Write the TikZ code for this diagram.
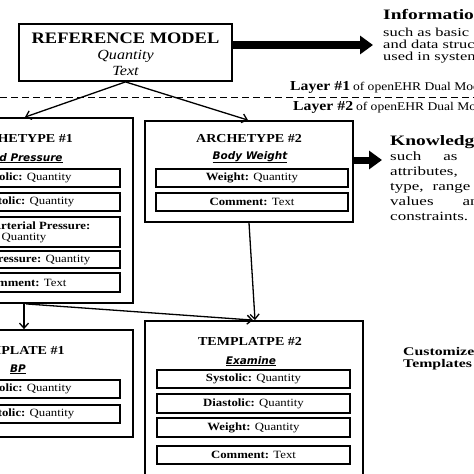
\documentclass[tikz,border=0pt]{standalone}
\usepackage{fontspec}
\setmainfont{Liberation Serif}[FakeStretch=1.15]
\newfontfamily\sB{Liberation Serif}[FakeStretch=1.35]
\newfontfamily\vsans{DejaVu Sans}
\usetikzlibrary{arrows.meta}
\newcommand{\fsz}[1]{\fontsize{#1}{#1}\selectfont}
\begin{document}
\begin{tikzpicture}[x=1pt,y=-1pt,
  obox/.style={draw, line width=1.8pt, inner sep=0pt},
  ibox/.style={draw, line width=1.8pt, inner sep=0pt, font=\fsz{11.1}, align=center},
  ttl/.style={anchor=base, inner sep=0pt, font=\fsz{12.2}\bfseries},
  sub/.style={anchor=base, inner sep=0pt, font=\fsz{10.5}\vsans\bfseries\itshape},
  conn/.style={line width=1.3pt, -{Straight Barb[length=5pt,width=9pt,line width=1.3pt]}},
  bigarrow/.style={line width=#1, -{Triangle[length=13pt 0,width=18pt 0]}},
  side/.style={anchor=base west, inner sep=0pt, font=\sB\fsz{12.6}},
  infoline/.style={anchor=base west, inner sep=0pt, font=\sB\fsz{12.2}},
  sidehead/.style={anchor=base west, inner sep=0pt, font=\sB\fsz{14.4}\bfseries}]
\useasboundingbox (0,0) rectangle (474,474);
\clip (0,0) rectangle (474,474);
\fill[white] (0,0) rectangle (474,474);

% Reference model
\node[obox, minimum width=213pt, minimum height=57pt] (refm) at (125.5,52.5) {};
\node[anchor=base, inner sep=0pt, font=\fsz{16}\bfseries] (refT) at (125.5,43) {REFERENCE MODEL};
\node[anchor=base, inner sep=0pt, font=\fsz{14}\itshape] (refQ) at (125.5,59) {Quantity};
\node[anchor=base, inner sep=0pt, font=\fsz{14}\itshape] (refX) at (125.5,75) {Text};

% Archetype 1
\node[obox, minimum width=232pt, minimum height=185pt] (arch1) at (17,210.5) {};
\node[ttl] (a1t) at (20,142) {ARCHETYPE \#1};
\node[sub] (a1s) at (18,161) {\underline{Blood Pressure}};
\node[ibox, minimum width=192pt, minimum height=18pt] (a1b1) at (24,178) {\textbf{Systolic:} Quantity};
\node[ibox, minimum width=192pt, minimum height=18pt] (a1b2) at (24,202) {\textbf{Diastolic:} Quantity};
\node[ibox, minimum width=192pt, minimum height=30pt] (a1b3) at (24,232) {\textbf{Mean Arterial Pressure:}\\[0pt] Quantity};
\node[ibox, minimum width=192pt, minimum height=17pt] (a1b4) at (24,259.5) {\textbf{Pulse Pressure:} Quantity};
\node[ibox, minimum width=192pt, minimum height=19pt] (a1b5) at (24,282.5) {\textbf{Comment:} Text};

% Archetype 2
\node[obox, minimum width=208pt, minimum height=101pt] (arch2) at (249,171.5) {};
\node[ttl] (a2t) at (249,142) {ARCHETYPE \#2};
\node[sub] (a2s) at (250,159) {\underline{Body Weight}};
\node[ibox, minimum width=192pt, minimum height=18pt] (a2b1) at (252,178) {\textbf{Weight:} Quantity};
\node[ibox, minimum width=192pt, minimum height=18pt] (a2b2) at (252,202) {\textbf{Comment:} Text};

% Template 1
\node[obox, minimum width=232pt, minimum height=107pt] (tmp1) at (17,383.5) {};
\node[ttl] (t1t) at (17,354) {TEMPLATE \#1};
\node[sub] (t1s) at (18,372) {\underline{BP}};
\node[ibox, minimum width=192pt, minimum height=18pt] (t1b1) at (24,389) {\textbf{Systolic:} Quantity};
\node[ibox, minimum width=192pt, minimum height=18pt] (t1b2) at (24,414) {\textbf{Diastolic:} Quantity};

% Template 2
\node[obox, minimum width=218pt, minimum height=170pt] (tmp2) at (254,406) {};
\node[ttl] (t2t) at (250,345) {TEMPLATPE \#2};
\node[sub] (t2s) at (251,364) {\underline{Examine}};
\node[ibox, minimum width=193pt, minimum height=18pt] (t2b1) at (253.5,379) {\textbf{Systolic:} Quantity};
\node[ibox, minimum width=193pt, minimum height=19pt] (t2b2) at (253.5,403.5) {\textbf{Diastolic:} Quantity};
\node[ibox, minimum width=193pt, minimum height=19pt] (t2b3) at (253.5,427.5) {\textbf{Weight:} Quantity};
\node[ibox, minimum width=193pt, minimum height=18pt] (t2b4) at (253.5,455) {\textbf{Comment:} Text};

% connectors
\draw[conn] (refm.south) -- ([xshift=8pt]arch1.north);
\draw[conn] (refm.south) -- ([xshift=-1pt]arch2.north);
\draw[conn] ([xshift=7pt]arch1.south) -- ([xshift=7pt]tmp1.north);
\draw[conn] ([xshift=9pt]arch1.south) -- ([xshift=-1pt]tmp2.north);
\draw[conn] (arch2.south) -- ([xshift=1pt]tmp2.north);

% big arrows
\coordinate (infotip) at (373,45);
\draw[bigarrow=8pt] (refm.east |- infotip) -- (infotip);
\coordinate (knowtip) at (382,160);
\draw[bigarrow=7pt] (arch2.east |- knowtip) -- (knowtip);

% layer separator
\coordinate (dashL) at (0,97.5);
\coordinate (dashR) at (474,97.5);
\draw[line width=1.8pt, dash pattern=on 7pt off 4pt] (dashL) -- (dashR);
\node[anchor=base west, inner sep=0pt] (lay1) at (290,90) {{\fsz{13.7}\bfseries Layer \#1} {\fsz{11.8}of openEHR Dual Model}};
\node[anchor=base west, inner sep=0pt] (lay2) at (293,110) {{\fsz{13.7}\bfseries Layer \#2} {\fsz{11.8}of openEHR Dual Model}};

% right side texts
\node[sidehead] (infoH) at (383,19) {Information};
\node[infoline] (info1) at (383,36) {such as basic};
\node[infoline] (info2) at (383,48) {and data structures};
\node[infoline] (info3) at (383,60) {used in systems};

\node[sidehead] (knowH) at (390,145) {Knowledge};
\node[side] (know1) at (390,160) {such\hspace{22pt}as};
\node[side] (know2) at (390,175) {attributes,};
\node[side] (know3) at (390,190) {type,\hspace{9pt}range};
\node[side] (know4) at (390,205) {values\hspace{29pt}and};
\node[side] (know5) at (390,220) {constraints.};

\node[anchor=base west, inner sep=0pt, font=\sB\fsz{11.7}\bfseries] (cust1) at (403,355) {Customize};
\node[anchor=base west, inner sep=0pt, font=\sB\fsz{11.7}\bfseries] (cust2) at (403,367) {Templates};
\end{tikzpicture}
\end{document}
